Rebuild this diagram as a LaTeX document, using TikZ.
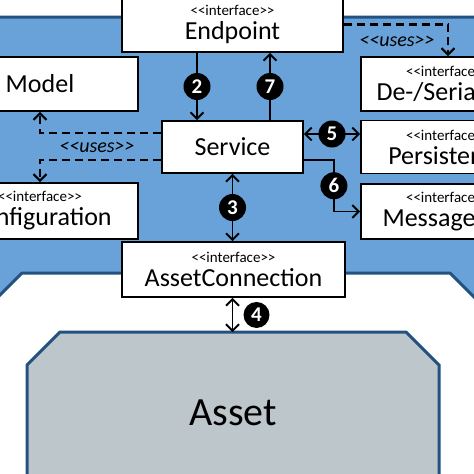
\documentclass[tikz,border=0pt]{standalone}
\usepackage{fontspec}
\setmainfont{Carlito}
\usetikzlibrary{
    arrows.meta,
    calc,
    positioning
}
\definecolor{bandblue}{RGB}{104,162,216}
\definecolor{edgeblue}{RGB}{36,82,128}
\definecolor{assetgray}{RGB}{189,198,203}
\newcommand{\iface}{{\fontsize{15}{15}\selectfont <{}<interface>{}>}}
\newcommand{\usestag}{<{}<uses>{}>}

\begin{document}
\begin{tikzpicture}[x=1pt, y=-1pt,
        comp/.style={draw, line width=1.8pt, fill=white, inner sep=0pt, align=center,
            font=\fontsize{26}{24}\selectfont},
        num/.style={circle, fill=black, text=white, inner sep=0pt, minimum size=27pt,
            font=\bfseries\fontsize{21}{21}\selectfont},
        arr/.style={line width=1.9pt, -{Straight Barb[length=6.5pt, width=13pt]}},
        biarr/.style={arr, {Straight Barb[length=6.5pt, width=13pt]}-{Straight Barb[length=6.5pt, width=13pt]}},
        uses/.style={arr, line width=2.1pt, dash pattern=on 8pt off 5pt},
        useslabel/.style={font=\itshape\fontsize{20}{20}\selectfont}]
    \clip (0, 0) rectangle (474, 474);
    \fill[white] (0, 0) rectangle (474, 474);

    \draw[edgeblue, line width=3pt, fill=bandblue]
    (-10, 17) -- (484, 17) -- (484, 307) -- (450, 273) -- (22, 273) -- (-10, 305) -- cycle;
    \draw[edgeblue, line width=3pt, fill=assetgray]
    (27, 540) -- (27, 365) -- (60, 332) -- (406, 332) -- (439, 365) -- (439, 540);
    \node[font=\fontsize{40}{40}\selectfont] (assetlabel) at (233, 413) {Asset};
    \coordinate (assettop) at (232.5, 332);

    \node[comp, minimum width=221pt, minimum height=55pt] (endpoint) at (232.5, 24.5) {\iface\\Endpoint};
    \node[comp, minimum width=196pt, minimum height=54pt] (model) at (40, 84) {Model};
    \node[comp, minimum width=141pt, minimum height=52pt] (service) at (232.5, 147) {Service};
    \node[comp, minimum width=196pt, minimum height=56pt] (config) at (40, 211) {\iface\\Configuration};
    \node[comp, minimum width=174pt, minimum height=54pt] (deser) at (448, 84) {\iface\\De-/Serializer};
    \node[comp, minimum width=174pt, minimum height=53pt] (persist) at (448, 147) {\iface\\Persistence};
    \node[comp, minimum width=174pt, minimum height=55pt] (message) at (448, 211.5) {\iface\\MessageBus};
    \node[comp, minimum width=223pt, minimum height=55pt] (assetconn) at (233.5, 269.5) {\iface\\AssetConnection};

    \draw[arr] ([xshift=-35.5pt]endpoint.south) -- node[num] (n2) {2} ([xshift=-35.5pt]endpoint.south |- service.north);
    \draw[arr] ([xshift=37.5pt]service.north) -- node[num] (n7) {7} ([xshift=37.5pt]service.north |- endpoint.south);
    \draw[biarr] (service.south) -- node[num] (n3) {3} (service.south |- assetconn.north);
    \draw[biarr] (service.south |- assetconn.south) -- node[num, xshift=24pt, minimum size=26pt] (n4) {4} (assettop);
    \draw[biarr] ([yshift=13pt]service.east) -- node[num] (n5) {5} ([yshift=13pt]service.east -| persist.west);
    \draw[arr] ([yshift=-13pt]service.east) -- ++(30, 0) |- node[num, pos=0.25] (n6) {6} (message.west);

    \draw[uses] ([yshift=14pt]service.west) -| (model.south);
    \draw[uses] ([yshift=-13pt]service.west) -| (config.north);
    \node[useslabel] (uses1) at (97, 147) {\usestag};
    \draw[uses] (endpoint.east) -| (deser.north);
    \node[useslabel] (uses2) at (397, 41) {\usestag};
\end{tikzpicture}
\end{document}
